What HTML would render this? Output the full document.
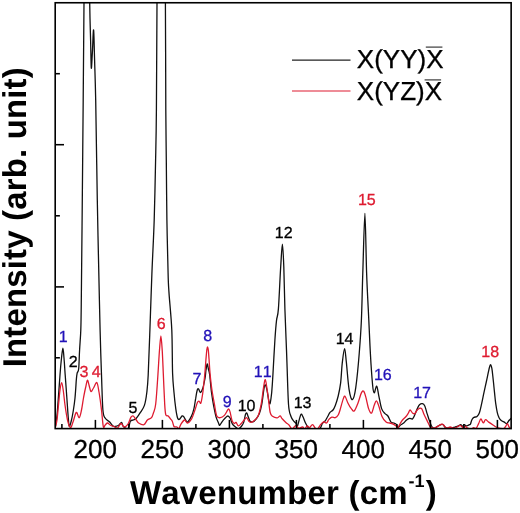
<!DOCTYPE html>
<html><head><meta charset="utf-8"><title>Raman spectra</title>
<style>
html,body{margin:0;padding:0;background:#fff;}
body{width:520px;height:513px;overflow:hidden;}
svg{display:block;font-family:"Liberation Sans",Arial,sans-serif;font-kerning:none;text-rendering:geometricPrecision;}
</style></head><body>
<svg width="520" height="513" viewBox="0 0 520 513">
<rect width="520" height="513" fill="#fff"/>
<defs><clipPath id="c"><rect x="55.2" y="2.75" width="455.95" height="425.85"/></clipPath></defs>
<g clip-path="url(#c)" fill="none" stroke-linejoin="round" stroke-linecap="round">
<path d="M55.5,426.5C55.8,424.6 56.5,419.4 57.0,415.0C57.5,410.6 57.7,406.7 58.2,400.0C58.7,393.3 59.5,382.0 60.0,375.0C60.5,368.0 61.0,362.5 61.5,358.0C62.0,353.5 62.5,348.2 62.9,348.2C63.3,348.2 63.6,353.5 64.0,358.0C64.4,362.5 64.7,368.0 65.2,375.0C65.7,382.0 66.5,392.8 67.0,400.0C67.5,407.2 67.9,413.6 68.3,418.0C68.7,422.4 68.8,426.2 69.3,426.5C69.8,426.8 70.8,422.8 71.5,420.0C72.2,417.2 72.8,413.7 73.4,410.0C74.0,406.3 74.5,403.0 75.0,398.0C75.5,393.0 76.0,384.1 76.3,380.0C76.6,375.9 76.7,375.2 77.1,373.3C77.5,371.4 78.3,372.6 78.7,368.7C79.1,364.8 79.2,356.4 79.6,350.0C79.9,343.6 80.5,338.3 80.8,330.0C81.1,321.7 81.1,320.0 81.3,300.0C81.5,280.0 81.9,243.3 82.2,210.0C82.5,176.7 82.9,134.6 83.2,100.0C83.5,65.4 83.8,32.5 84.0,2.5C84.2,-27.5 84.1,-54.6 84.6,-80.0C85.1,-105.4 86.0,-150.0 86.8,-150.0C87.5,-150.0 88.6,-105.4 89.1,-80.0C89.6,-54.6 89.5,-17.5 89.7,2.5C90.0,22.5 90.3,29.1 90.6,40.0C90.9,50.9 91.0,66.0 91.3,68.0C91.6,70.0 92.0,58.3 92.4,52.0C92.8,45.7 93.2,28.7 93.6,30.0C94.0,31.3 94.2,48.3 94.6,60.0C94.9,71.7 95.2,76.7 95.7,100.0C96.2,123.3 96.7,166.7 97.3,200.0C97.9,233.3 98.9,278.3 99.4,300.0C99.9,321.7 99.8,317.5 100.1,330.0C100.4,342.5 101.0,361.7 101.5,375.0C102.0,388.3 102.3,402.8 102.9,410.0C103.5,417.2 104.2,416.3 105.3,418.3C106.4,420.3 108.1,420.5 109.4,421.8C110.7,423.1 111.9,425.1 112.9,425.9C113.9,426.7 114.2,426.6 115.2,426.5C116.2,426.4 117.6,426.0 118.7,425.3C119.8,424.6 120.8,422.2 121.6,422.4C122.4,422.6 122.3,425.5 123.4,426.5C124.5,427.5 126.9,429.1 128.1,428.2C129.3,427.3 129.5,422.6 130.4,421.2C131.3,419.8 132.3,420.5 133.3,420.0C134.3,419.5 135.1,419.6 136.3,418.3C137.5,417.0 139.1,414.5 140.4,412.4C141.8,410.2 143.3,408.7 144.4,405.4C145.5,402.1 146.2,397.6 146.8,392.5C147.4,387.4 147.7,385.4 148.2,375.0C148.7,364.6 149.3,346.9 149.9,330.0C150.5,313.1 151.2,291.9 151.9,273.6C152.6,255.3 153.6,238.9 154.2,220.0C154.8,201.1 155.2,178.3 155.6,160.0C156.0,141.7 156.2,136.2 156.4,110.0C156.6,83.8 156.8,34.2 157.0,2.5C157.2,-29.2 157.2,-54.6 157.9,-80.0C158.6,-105.4 160.2,-150.0 161.3,-150.0C162.4,-150.0 164.0,-105.4 164.7,-80.0C165.4,-54.6 165.2,-29.2 165.4,2.5C165.6,34.2 165.7,83.8 165.8,110.0C166.0,136.2 166.1,141.7 166.3,160.0C166.5,178.3 166.6,201.1 166.9,220.0C167.2,238.9 167.8,261.5 168.1,273.6C168.4,285.8 168.4,283.5 169.0,292.9C169.6,302.3 171.2,316.6 171.8,330.0C172.4,343.4 172.2,363.1 172.6,373.5C173.0,383.9 173.5,386.6 174.0,392.5C174.5,398.4 175.2,404.7 175.8,408.9C176.4,413.1 176.9,415.9 177.5,417.7C178.1,419.4 178.5,419.7 179.3,419.4C180.1,419.1 181.4,416.3 182.2,415.9C183.0,415.5 183.3,416.2 184.0,417.1C184.7,418.0 185.6,420.4 186.3,421.2C187.0,422.0 187.1,422.7 188.0,421.8C188.9,420.9 190.6,418.0 191.6,415.9C192.6,413.8 193.2,411.8 193.9,408.9C194.6,406.0 195.1,401.5 195.7,398.4C196.2,395.3 196.7,391.8 197.2,390.2C197.7,388.6 198.1,388.6 198.6,389.0C199.1,389.4 199.7,392.6 200.4,392.5C201.1,392.4 201.9,390.8 202.7,388.5C203.5,386.2 204.4,381.6 205.0,378.5C205.6,375.4 205.6,372.4 206.0,370.0C206.4,367.6 206.8,364.1 207.2,363.9C207.6,363.7 208.0,367.1 208.4,369.0C208.8,370.9 209.2,371.1 209.7,375.0C210.2,378.9 210.8,387.2 211.5,392.5C212.2,397.8 213.0,402.5 213.8,406.6C214.6,410.7 215.3,414.4 216.1,417.1C216.9,419.8 217.9,421.6 218.5,423.0C219.1,424.4 219.1,425.5 219.7,425.3C220.3,425.1 221.1,423.0 222.0,421.8C222.9,420.6 224.0,419.3 225.0,418.3C226.0,417.3 227.0,416.0 227.9,416.0C228.8,416.0 229.4,416.9 230.2,418.3C231.0,419.7 231.6,422.7 232.5,424.1C233.4,425.6 234.5,426.2 235.5,427.0C236.5,427.8 237.4,428.9 238.4,428.8C239.4,428.7 240.4,427.6 241.3,426.5C242.2,425.4 243.0,424.3 243.7,422.4C244.4,420.4 244.9,416.4 245.4,414.8C245.9,413.2 246.3,412.6 246.8,413.0C247.3,413.4 247.8,415.7 248.3,417.1C248.9,418.5 249.3,420.4 250.1,421.2C250.9,422.0 252.0,422.1 253.0,421.8C254.0,421.5 254.8,420.8 255.9,419.4C257.0,418.0 258.4,416.1 259.4,413.6C260.4,411.1 261.0,408.5 261.8,404.2C262.6,399.9 263.5,391.1 264.1,387.9C264.7,384.7 265.0,384.6 265.5,385.0C266.0,385.4 266.4,387.4 267.0,390.2C267.6,393.0 268.5,399.8 269.0,401.9C269.5,404.0 269.8,404.6 270.2,403.0C270.6,401.4 271.2,397.2 271.7,392.5C272.1,387.8 272.4,383.8 272.9,375.0C273.4,366.2 274.3,349.1 274.9,340.0C275.5,330.9 275.9,325.8 276.5,320.6C277.1,315.4 277.7,317.9 278.4,308.9C279.1,299.9 280.0,277.6 280.7,266.8C281.4,256.0 281.9,244.1 282.4,244.1C282.9,244.1 283.4,256.0 283.8,266.8C284.2,277.6 284.5,296.7 284.9,308.9C285.3,321.1 285.8,330.8 286.1,340.0C286.5,349.2 286.6,353.5 287.0,364.2C287.4,374.9 287.9,395.6 288.5,404.2C289.1,412.8 289.9,413.2 290.8,416.0C291.7,418.8 292.9,419.9 293.8,421.2C294.7,422.4 295.5,422.6 296.1,423.5C296.7,424.4 296.8,427.0 297.3,426.5C297.8,426.0 298.4,422.7 299.0,420.6C299.6,418.6 300.4,414.8 301.1,414.2C301.8,413.6 302.4,415.6 303.1,417.1C303.8,418.6 304.7,421.4 305.5,423.0C306.3,424.6 307.0,426.0 307.8,427.0C308.6,428.0 308.9,428.5 310.1,428.8C311.3,429.1 313.3,428.7 315.0,428.6C316.7,428.5 318.9,429.1 320.1,428.2C321.3,427.3 321.5,424.8 322.4,423.5C323.3,422.2 324.5,421.8 325.4,420.6C326.3,419.4 326.9,417.9 327.7,416.5C328.5,415.1 329.1,413.5 330.0,412.4C330.9,411.3 332.1,411.2 333.0,410.0C333.9,408.8 334.4,407.7 335.3,405.4C336.2,403.1 337.3,399.7 338.2,396.0C339.1,392.3 339.9,388.8 340.6,383.2C341.3,377.6 341.6,368.4 342.3,362.6C343.0,356.9 343.9,348.7 344.6,348.7C345.3,348.7 345.6,355.8 346.4,362.6C347.1,369.4 348.1,383.4 349.1,389.6C350.1,395.8 351.3,400.0 352.4,399.6C353.5,399.2 354.7,395.0 355.8,387.3C356.9,379.6 358.3,364.9 359.2,353.7C360.1,342.5 360.8,333.5 361.4,320.0C362.0,306.5 362.2,290.5 362.8,272.7C363.4,254.9 364.3,213.3 364.9,213.3C365.5,213.3 366.0,254.9 366.6,272.7C367.2,290.5 368.2,306.5 368.8,320.0C369.4,333.5 369.8,342.9 370.4,353.7C371.0,364.5 372.0,378.5 372.6,385.0C373.2,391.5 373.5,392.7 374.2,392.9C374.9,393.1 375.9,385.6 376.7,386.2C377.5,386.8 378.1,392.6 378.9,396.3C379.7,400.0 380.6,405.7 381.6,408.6C382.6,411.5 383.9,412.4 385.0,413.6C386.1,414.8 386.9,414.6 387.9,416.0C388.9,417.4 389.8,420.6 390.8,421.8C391.8,423.0 392.9,422.6 393.8,423.0C394.7,423.4 395.4,423.3 396.1,424.1C396.8,424.9 397.2,427.4 397.9,427.6C398.6,427.8 399.2,426.1 400.2,425.3C401.2,424.5 402.6,423.9 403.7,423.0C404.8,422.1 405.6,420.8 406.6,420.0C407.6,419.2 408.6,418.5 409.6,418.3C410.6,418.1 411.6,419.5 412.5,418.9C413.4,418.3 414.0,416.5 414.8,414.8C415.6,413.1 416.4,410.6 417.2,408.9C418.0,407.2 418.6,405.7 419.5,404.8C420.4,403.9 421.5,403.5 422.4,403.7C423.3,403.9 424.0,404.4 424.8,406.0C425.6,407.6 426.3,411.2 427.1,413.6C427.9,416.0 428.6,418.5 429.4,420.6C430.2,422.8 431.0,425.2 431.8,426.5C432.6,427.8 433.2,428.2 434.1,428.2C435.0,428.2 436.2,427.1 437.3,426.5C438.4,425.9 439.8,425.0 440.8,424.7C441.8,424.4 442.4,424.2 443.2,424.7C444.0,425.2 444.3,427.0 445.5,427.6C446.7,428.2 448.6,428.3 450.2,428.2C451.8,428.1 453.5,427.4 454.9,427.0C456.3,426.6 457.4,426.3 458.4,425.9C459.4,425.5 460.0,424.6 460.7,424.7C461.4,424.8 461.9,426.5 462.5,426.5C463.1,426.5 463.5,424.8 464.2,424.7C464.9,424.6 465.7,425.9 466.6,425.9C467.5,425.9 468.9,425.0 469.5,424.7C470.1,424.4 470.1,424.8 470.5,424.0C470.9,423.2 471.3,420.8 471.9,419.7C472.5,418.6 473.0,417.9 473.9,417.4C474.8,416.8 476.1,417.2 477.0,416.4C477.9,415.6 478.6,414.9 479.4,412.7C480.2,410.5 480.9,406.8 481.7,403.4C482.5,400.0 483.2,396.0 484.0,392.4C484.8,388.8 485.6,385.1 486.4,381.5C487.2,377.9 488.1,373.1 488.7,370.6C489.2,368.1 489.4,367.5 489.7,366.5C490.0,365.5 490.3,364.7 490.6,364.7C490.9,364.7 491.1,365.5 491.4,366.5C491.7,367.5 491.9,368.1 492.2,370.6C492.5,373.1 493.0,377.9 493.4,381.5C493.8,385.1 494.1,388.8 494.5,392.4C494.9,396.0 495.2,400.0 495.7,403.4C496.2,406.8 496.8,410.4 497.3,412.7C497.8,415.0 498.2,416.1 498.9,417.4C499.5,418.7 500.3,419.7 501.2,420.5C502.1,421.3 503.4,421.6 504.3,422.1C505.2,422.6 505.9,423.9 506.7,423.6C507.5,423.3 508.2,421.4 509.0,420.5C509.8,419.6 511.1,418.4 511.5,418.0" stroke="#111" stroke-width="1.3"/>
<path d="M55.5,426.5C55.8,425.4 56.5,423.6 57.0,420.0C57.5,416.4 58.0,410.0 58.5,405.0C59.0,400.0 59.5,393.7 60.0,390.0C60.5,386.3 61.2,382.6 61.7,382.6C62.2,382.6 62.7,386.3 63.2,390.0C63.8,393.7 64.3,400.0 65.0,405.0C65.7,410.0 66.6,416.2 67.5,420.0C68.4,423.8 69.6,427.3 70.5,427.6C71.4,427.9 72.0,424.5 73.0,422.0C74.0,419.5 75.3,413.1 76.3,412.4C77.3,411.7 78.3,418.1 79.2,417.7C80.1,417.3 80.8,413.3 81.5,410.0C82.2,406.7 82.8,401.7 83.5,398.0C84.2,394.3 84.8,390.9 85.5,388.0C86.2,385.1 86.8,380.8 87.4,380.3C88.0,379.8 88.4,383.1 89.0,385.0C89.6,386.9 90.2,390.9 90.9,391.4C91.7,391.9 92.5,389.5 93.5,388.0C94.5,386.5 95.9,381.9 96.8,382.6C97.7,383.3 98.2,387.4 99.0,392.0C99.8,396.6 100.8,404.2 101.5,410.0C102.2,415.8 102.7,424.0 103.3,426.5C103.9,429.0 104.5,425.6 105.2,425.0C105.9,424.4 106.7,422.9 107.6,423.0C108.5,423.1 109.4,424.7 110.5,425.3C111.6,425.9 112.8,426.1 114.0,426.5C115.2,426.9 116.3,428.5 117.5,428.0C118.7,427.5 119.9,423.7 121.0,423.5C122.1,423.3 122.8,426.9 124.0,427.0C125.2,427.1 126.8,425.8 128.0,424.1C129.2,422.5 130.1,418.5 131.0,417.1C131.9,415.8 132.4,415.5 133.3,416.0C134.2,416.5 135.4,418.8 136.3,420.0C137.2,421.2 137.3,422.2 138.6,423.0C139.9,423.8 142.4,425.2 143.9,424.7C145.4,424.2 146.1,421.2 147.4,420.0C148.7,418.8 150.5,418.9 151.5,417.7C152.5,416.5 152.7,415.3 153.4,413.0C154.1,410.7 154.9,410.6 155.7,404.0C156.5,397.4 157.4,382.5 158.0,373.5C158.6,364.5 159.0,356.2 159.5,350.0C160.0,343.8 160.5,336.0 160.9,336.0C161.3,336.0 161.8,343.8 162.2,350.0C162.6,356.2 162.9,364.5 163.3,373.5C163.7,382.5 164.3,397.3 164.7,404.2C165.1,411.1 165.2,412.9 165.8,414.8C166.4,416.8 167.4,415.2 168.2,415.9C169.0,416.6 169.8,418.0 170.5,418.9C171.2,419.8 171.7,419.9 172.3,421.2C172.9,422.5 173.2,425.5 174.0,426.5C174.8,427.5 176.2,426.6 177.0,427.0C177.8,427.4 178.0,429.3 178.7,428.8C179.4,428.3 180.0,425.6 181.0,424.1C182.0,422.6 183.5,420.2 184.6,420.0C185.7,419.8 186.3,423.2 187.5,423.0C188.7,422.8 190.4,420.8 191.6,418.9C192.8,416.9 193.5,414.0 194.5,411.3C195.5,408.6 196.6,404.2 197.4,402.5C198.2,400.8 198.6,401.2 199.2,401.3C199.8,401.4 200.3,404.3 200.9,403.0C201.5,401.7 202.1,397.5 202.7,393.5C203.3,389.5 203.9,382.8 204.3,379.0C204.7,375.2 204.8,373.8 205.1,370.6C205.4,367.4 205.6,363.4 205.9,360.0C206.2,356.6 206.5,352.2 206.8,350.0C207.1,347.8 207.2,346.9 207.5,346.9C207.8,346.9 208.0,347.8 208.3,350.0C208.6,352.2 208.8,356.6 209.1,360.0C209.3,363.4 209.6,367.4 209.8,370.6C210.1,373.8 210.3,376.4 210.6,379.0C210.9,381.6 211.1,383.9 211.4,386.2C211.7,388.5 211.9,390.0 212.4,393.0C212.9,396.0 213.7,400.4 214.4,404.2C215.1,408.0 215.8,413.8 216.8,416.0C217.8,418.2 219.0,417.8 220.3,417.7C221.6,417.6 223.2,416.6 224.4,415.4C225.6,414.2 226.6,411.8 227.3,410.7C228.0,409.6 228.3,408.7 228.8,409.0C229.3,409.3 229.7,410.5 230.2,412.4C230.7,414.3 231.3,418.8 232.0,420.6C232.7,422.5 233.6,423.2 234.3,423.5C235.0,423.8 235.3,422.0 236.0,422.4C236.7,422.8 237.5,425.7 238.4,425.9C239.3,426.1 240.3,424.5 241.3,423.5C242.3,422.5 243.3,421.0 244.2,420.0C245.1,419.0 245.8,417.5 246.6,417.7C247.4,417.9 248.1,420.4 248.9,421.2C249.7,422.0 250.3,422.6 251.3,422.4C252.3,422.2 253.6,421.2 254.8,420.0C256.0,418.8 257.2,418.0 258.3,415.4C259.4,412.8 260.3,408.8 261.2,404.2C262.1,399.6 262.8,392.0 263.5,387.9C264.2,383.8 264.7,379.5 265.3,379.7C265.9,379.9 266.5,385.7 267.0,389.0C267.5,392.3 268.0,395.4 268.5,399.3C269.0,403.2 269.5,409.7 270.2,412.5C270.9,415.3 271.3,415.3 272.5,416.2C273.7,417.1 276.0,417.9 277.3,417.8C278.6,417.8 279.4,415.7 280.2,415.9C281.0,416.1 281.2,417.7 282.2,418.8C283.2,419.9 285.0,421.7 286.1,422.7C287.2,423.7 288.0,424.0 289.0,425.0C290.0,426.0 290.8,428.8 292.0,428.8C293.2,428.9 295.0,425.4 296.1,425.3C297.2,425.2 297.4,427.9 298.5,428.2C299.6,428.5 301.4,426.9 302.5,427.0C303.6,427.1 304.1,429.0 304.9,428.8C305.7,428.6 306.4,426.1 307.2,425.9C308.0,425.7 308.7,427.8 309.6,427.6C310.5,427.4 311.5,424.6 312.5,424.7C313.5,424.8 314.5,427.5 315.4,428.2C316.3,428.9 316.9,429.3 317.7,428.8C318.5,428.3 319.1,426.5 320.1,425.3C321.1,424.1 322.5,422.2 323.6,421.8C324.7,421.4 325.6,423.4 326.5,423.0C327.4,422.6 328.0,420.4 328.9,419.4C329.8,418.4 330.7,417.4 331.8,417.1C332.9,416.8 334.2,418.1 335.3,417.7C336.4,417.3 337.4,416.3 338.2,415.0C339.0,413.7 339.3,412.3 340.1,409.7C340.9,407.1 342.2,401.8 343.0,399.6C343.8,397.4 344.2,395.7 345.0,396.3C345.8,396.9 346.8,400.9 347.9,403.0C348.9,405.1 350.2,407.3 351.3,408.6C352.4,409.9 353.1,411.8 354.2,410.9C355.3,410.0 356.8,406.0 358.0,403.0C359.2,400.0 360.4,394.8 361.4,392.9C362.3,390.9 362.9,390.6 363.7,391.3C364.4,392.1 365.1,394.5 365.9,397.4C366.7,400.3 367.7,406.0 368.6,408.6C369.5,411.2 370.6,413.7 371.5,413.1C372.4,412.6 373.4,407.4 374.2,405.3C375.0,403.2 375.6,400.6 376.4,400.8C377.2,401.0 378.0,403.8 378.9,406.4C379.8,409.0 380.8,413.9 382.0,416.5C383.2,419.1 384.8,421.0 386.1,422.1C387.4,423.2 388.5,422.7 389.7,423.0C390.9,423.3 392.1,423.6 393.2,424.1C394.3,424.6 395.3,425.3 396.1,425.9C396.9,426.5 397.2,428.0 397.9,427.6C398.6,427.2 399.4,424.8 400.2,423.5C401.0,422.2 401.5,421.2 402.5,420.0C403.5,418.8 405.0,417.7 406.0,416.5C407.0,415.3 407.7,414.1 408.4,413.0C409.1,411.9 409.4,410.0 410.1,410.0C410.8,410.0 411.7,412.4 412.5,413.0C413.3,413.6 414.0,414.1 414.8,413.6C415.6,413.1 416.4,410.9 417.2,410.0C418.0,409.1 418.7,408.5 419.5,408.3C420.3,408.1 421.0,407.8 421.8,408.9C422.6,410.0 423.3,412.9 424.2,414.8C425.1,416.8 426.1,418.7 427.1,420.6C428.1,422.6 429.0,425.2 430.0,426.5C431.0,427.8 431.9,428.1 433.0,428.2C434.1,428.3 435.6,427.4 436.5,427.0C437.4,426.6 437.6,426.4 438.5,425.9C439.4,425.4 441.0,424.1 442.0,424.1C443.0,424.1 443.6,425.2 444.4,425.9C445.2,426.6 445.7,428.0 446.7,428.2C447.7,428.4 449.0,427.0 450.2,427.0C451.4,427.0 452.5,428.2 453.7,428.2C454.9,428.2 456.1,427.5 457.2,427.0C458.3,426.5 459.1,425.2 460.1,425.3C461.1,425.4 462.2,427.4 463.1,427.6C464.0,427.8 464.6,426.4 465.4,426.5C466.2,426.6 466.7,427.8 467.7,428.2C468.7,428.6 470.3,428.9 471.3,428.8C472.3,428.7 472.8,427.7 473.6,427.6C474.4,427.5 475.4,429.0 476.2,428.3C477.0,427.6 477.8,425.2 478.6,423.6C479.4,422.1 480.1,419.1 480.9,419.0C481.7,418.9 482.5,422.8 483.3,422.9C484.1,423.0 484.7,419.8 485.6,419.7C486.5,419.6 487.4,421.2 488.7,422.1C490.0,423.0 492.0,424.3 493.4,425.2C494.8,426.1 495.6,426.9 497.3,427.5C499.0,428.1 502.1,428.9 503.5,428.6C504.9,428.4 505.2,426.8 505.9,426.0C506.5,425.2 506.9,423.5 507.4,423.6C507.9,423.7 508.5,426.0 509.0,426.8C509.5,427.6 509.8,428.0 510.2,428.3C510.6,428.6 511.3,428.4 511.5,428.4" stroke="#de1b30" stroke-width="1.3"/>
</g>
<g stroke="#000" stroke-width="1.55"><line x1="61.9" y1="428.6" x2="61.9" y2="423.9"/><line x1="95.4" y1="428.6" x2="95.4" y2="419.9"/><line x1="128.9" y1="428.6" x2="128.9" y2="423.9"/><line x1="162.4" y1="428.6" x2="162.4" y2="419.9"/><line x1="195.9" y1="428.6" x2="195.9" y2="423.9"/><line x1="229.4" y1="428.6" x2="229.4" y2="419.9"/><line x1="262.9" y1="428.6" x2="262.9" y2="423.9"/><line x1="296.4" y1="428.6" x2="296.4" y2="419.9"/><line x1="329.9" y1="428.6" x2="329.9" y2="423.9"/><line x1="363.4" y1="428.6" x2="363.4" y2="419.9"/><line x1="396.9" y1="428.6" x2="396.9" y2="423.9"/><line x1="430.4" y1="428.6" x2="430.4" y2="419.9"/><line x1="463.9" y1="428.6" x2="463.9" y2="423.9"/><line x1="497.4" y1="428.6" x2="497.4" y2="419.9"/><line x1="55.2" y1="73.7" x2="59.9" y2="73.7"/><line x1="55.2" y1="144.7" x2="64.0" y2="144.7"/><line x1="55.2" y1="215.8" x2="59.9" y2="215.8"/><line x1="55.2" y1="286.9" x2="64.0" y2="286.9"/><line x1="55.2" y1="357.8" x2="59.9" y2="357.8"/></g>
<rect x="55.2" y="2.75" width="455.95" height="425.85" fill="none" stroke="#000" stroke-width="1.6"/>
<g font-size="26" text-anchor="middle" fill="#000" stroke="#000" stroke-width="0.3"><text x="95.2" y="458.2">200</text><text x="162.2" y="458.2">250</text><text x="229.2" y="458.2">300</text><text x="296.2" y="458.2">350</text><text x="363.2" y="458.2">400</text><text x="430.2" y="458.2">450</text><text x="497.2" y="458.2">500</text></g>
<g font-size="16" text-anchor="middle" stroke-width="0.3"><text x="63.1" y="341.5" fill="#2212b8" stroke="#2212b8">1</text><text x="73.3" y="367.3" fill="#000" stroke="#000">2</text><text x="84.0" y="377.1" fill="#de1b30" stroke="#de1b30">3</text><text x="96.3" y="377.1" fill="#de1b30" stroke="#de1b30">4</text><text x="132.9" y="412.5" fill="#000" stroke="#000">5</text><text x="161.3" y="329.1" fill="#de1b30" stroke="#de1b30">6</text><text x="197.0" y="383.7" fill="#2212b8" stroke="#2212b8">7</text><text x="207.6" y="341.2" fill="#2212b8" stroke="#2212b8">8</text><text x="227.1" y="407.0" fill="#2212b8" stroke="#2212b8">9</text><text x="246.6" y="411.1" fill="#000" stroke="#000">10</text><text x="262.7" y="377.2" fill="#2212b8" stroke="#2212b8">11</text><text x="283.7" y="238.0" fill="#000" stroke="#000">12</text><text x="302.6" y="407.6" fill="#000" stroke="#000">13</text><text x="344.6" y="343.7" fill="#000" stroke="#000">14</text><text x="366.8" y="205.1" fill="#de1b30" stroke="#de1b30">15</text><text x="382.8" y="379.8" fill="#2212b8" stroke="#2212b8">16</text><text x="422.1" y="398.4" fill="#2212b8" stroke="#2212b8">17</text><text x="490.2" y="356.8" fill="#de1b30" stroke="#de1b30">18</text></g>
<line x1="292" y1="60.1" x2="350.5" y2="60.1" stroke="#222" stroke-width="1.2"/>
<line x1="292" y1="91.0" x2="350.5" y2="91.0" stroke="#de1b30" stroke-width="1.2"/>
<g font-size="26" fill="#000" stroke="#000" stroke-width="0.3">
<text x="356.8" y="68.3">X(YY)X</text>
<text x="356.8" y="100.0">X(YZ)X</text>
</g>
<line x1="425.8" y1="47.1" x2="442.4" y2="47.1" stroke="#333" stroke-width="1.15"/>
<line x1="424.6" y1="79.9" x2="441.1" y2="79.9" stroke="#333" stroke-width="1.15"/>
<text x="129.9" y="504" font-size="33" font-weight="bold" fill="#000" letter-spacing="0.2">Wavenumber (cm<tspan font-size="18" dy="-17" dx="0.6">-1</tspan><tspan dy="17" dx="1">)</tspan></text>
<text transform="translate(25.8,367.3) rotate(-90)" font-size="33" font-weight="bold" fill="#000" letter-spacing="0.15">Intensity (arb. unit)</text>
</svg>
</body></html>
